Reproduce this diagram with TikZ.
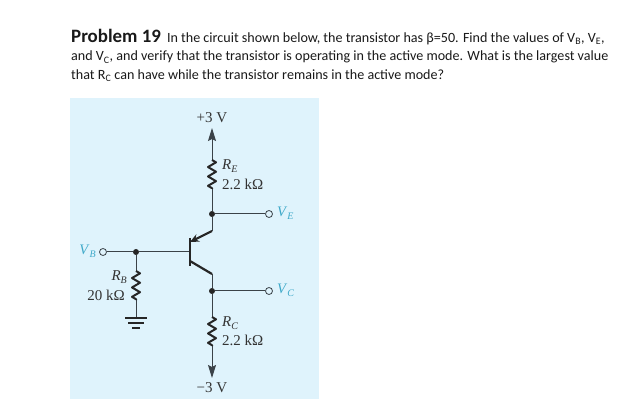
\documentclass[tikz,border=0pt]{standalone}
\usepackage{fontspec}
\setmainfont{Carlito}
\newfontfamily\circfont{Liberation Serif}
\usetikzlibrary{arrows.meta,decorations.pathmorphing}
\definecolor{panelblue}{HTML}{DFF3FC}
\definecolor{labelblue}{HTML}{3FA9C9}
\definecolor{wiregray}{HTML}{3A4248}
\newcommand{\subit}[2]{\textit{#1}\raisebox{-0.4ex}{\fontsize{10}{10}\selectfont\textit{#2}}}
\begin{document}
\begin{tikzpicture}[x=1pt,y=-1pt,
        wire/.style={draw=wiregray,line width=1pt},
        lead/.style={draw=black!85,line width=2.2pt},
        res/.style={draw=black!85,line width=2pt,line join=round,decorate,
            decoration={zigzag,segment length=9.4pt,amplitude=4pt}},
        supply/.style={wire,-{Stealth[length=13pt,width=8pt,inset=2pt]}},
        dot/.style={circle,fill=black!85,inner sep=0pt,minimum size=6pt},
        term/.style={circle,draw=wiregray,fill=panelblue,line width=0.8pt,inner sep=0pt,minimum size=7pt},
        val/.style={font=\circfont\fontsize{15}{17}\selectfont,text=black!80,inner sep=0pt},
        volt/.style={font=\circfont\fontsize{14.5}{17}\selectfont,text=labelblue,inner sep=0pt}]
        \useasboundingbox (0,0) rectangle (639,411);

        % Question text
        \node[anchor=north west,inner sep=0pt,align=left,text=black!90,
            font=\fontsize{14.1}{18.4}\selectfont] (question) at (71,29)
            {{\fontsize{18.9}{18}\selectfont\bfseries Problem 19}\hspace{6pt}In the circuit shown below, the transistor has β=50. Find the values of V\textsubscript{B}, V\textsubscript{E},\\
            and V\textsubscript{C}, and verify that the transistor is operating in the active mode. What is the largest value\\
            that R\textsubscript{C} can have while the transistor remains in the active mode?};

        % Panel
        \fill[panelblue] (70,98) rectangle (319,399);

        % Define vertices
        \coordinate (top) at (212,128);
        \coordinate (retop) at (212,160);
        \coordinate (rebot) at (212,189);
        \node[dot] (ejunc) at (212,214) {};
        \node[term] (ve) at (269,214) {};
        \coordinate (emit) at (212,231);
        \coordinate (ebase) at (190,242);
        \coordinate (bartop) at (190,238);
        \coordinate (barbot) at (190,266);
        \coordinate (bpin) at (190,252);
        \coordinate (cbase) at (190,261);
        \coordinate (coll) at (212,274);
        \node[dot] (cjunc) at (212,291) {};
        \node[term] (vc) at (269,291) {};
        \coordinate (rctop) at (212,317);
        \coordinate (rcbot) at (212,346);
        \coordinate (bot) at (212,378);
        \node[term] (vb) at (103,252) {};
        \node[dot] (bjunc) at (136,252) {};
        \coordinate (rbtop) at (136,271);
        \coordinate (rbbot) at (136,300);
        \coordinate (gnd) at (136,318);

        % Draw wires
        \path[supply] (retop) -- (top);
        \path[supply] (rcbot) -- (bot);
        \path[wire] (rebot) -- (ejunc) -- (emit);
        \path[wire] (ejunc) -- (ve);
        \path[wire] (coll) -- (cjunc) -- (rctop);
        \path[wire] (cjunc) -- (vc);
        \path[wire] (vb) -- (bjunc) -- (bpin);
        \path[wire] (bjunc) -- (rbtop);
        \path[wire] (rbbot) -- (gnd);

        % Resistors
        \path[res] (retop) -- (rebot);
        \path[res] (rctop) -- (rcbot);
        \path[res] (rbtop) -- (rbbot);

        % Transistor
        \path[lead] (bartop) -- (barbot);
        \path[lead] (cbase) -- (coll);
        \path[lead,-{Stealth[length=9pt,width=8pt]}] (emit) -- (ebase);

        % Ground
        \draw[black!85,line width=2pt] (125,318) -- (147,318);
        \draw[black!85,line width=2pt] (128,322.5) -- (144,322.5);
        \draw[black!85,line width=2pt] (132,327.5) -- (140,327.5);

        % Labels
        \node[val] (vplus) at (212,118) {+3 V};
        \node[val] (vminus) at (212,388) {−3 V};
        \node[val,anchor=west] (rename) at (222,166) {\subit{R}{E}};
        \node[val,anchor=west] (reval) at (222,184) {2.2 kΩ};
        \node[val,anchor=west] (rcname) at (222,323) {\subit{R}{C}};
        \node[val,anchor=west] (rcval) at (222,340) {2.2 kΩ};
        \node[val,anchor=east] (rbname) at (127,277) {\subit{R}{B}};
        \node[val,anchor=east] (rbval) at (125,295) {20 kΩ};
        \node[volt,anchor=west] (vename) at (277,213) {\subit{V}{E}};
        \node[volt,anchor=west] (vcname) at (277,290) {\subit{V}{C}};
        \node[volt,anchor=east] (vbname) at (96,251) {\subit{V}{B}};
\end{tikzpicture}
\end{document}
